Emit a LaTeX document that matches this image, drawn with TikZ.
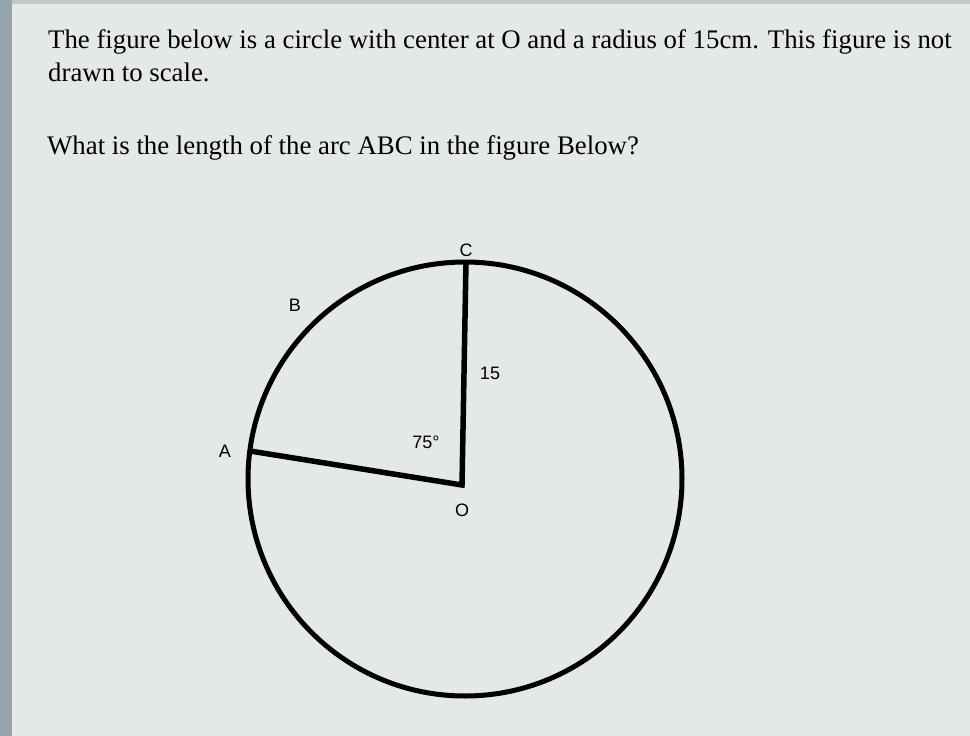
\documentclass[tikz,border=0pt]{standalone}
\usepackage{fontspec}
\setmainfont{Liberation Serif}
\newfontfamily\labelfont{Liberation Sans}
\usetikzlibrary{positioning}
\definecolor{screen}{RGB}{228,232,230}
\definecolor{bezel}{RGB}{150,166,172}
\tikzset{
	question/.style={
		anchor=base west,
		inner sep=0pt,
		font=\fontsize{26.8}{30}\selectfont,
	},
	point/.style={
		inner sep=1pt,
		font=\labelfont\fontsize{18}{20}\selectfont,
	},
	rim/.style={draw=black, line width=5pt},
	spoke/.style={draw=black, line width=5.5pt, line join=miter},
}

\begin{document}
\begin{tikzpicture}[x=1pt, y=-1pt, node distance=4pt]
\fill[screen] (0,0) rectangle (970,736);
\fill[bezel] (0,0) rectangle (12,736);
\fill[gray!45] (12,0) rectangle (970,4);
\useasboundingbox (0,0) rectangle (970,736);

\node	(intro)	[question]	at (48,48)	{The figure below is a circle with center at O and a radius of 15cm. This figure is not};
\node	(scale)	[question]	at (48,81)	{drawn to scale.};
\node	(ask)	[question]	at (47,154)	{What is the length of the arc ABC in the figure Below?};

\coordinate (centre) at (465,479);
\coordinate (O) at (462,485);
\coordinate (C) at (466,262);
\coordinate (A) at (250,451);

\draw[rim] (centre) circle [radius=217];
\path[spoke] (A) -- (O) -- (C);

\node	(labelC)	[point]	[above=of C]	{C};
\node	(labelO)	[point]	[below=18pt of O]	{O};
\node	(labelA)	[point]	[left=18pt of A]	{A};
\node	(labelB)	[point]	at (295,305)	{B};
\node	(radius)	[point]	at (490,373)	{15};
\node	(angle)	[point]	at (426,442)	{75°};

\end{tikzpicture}
\end{document}
